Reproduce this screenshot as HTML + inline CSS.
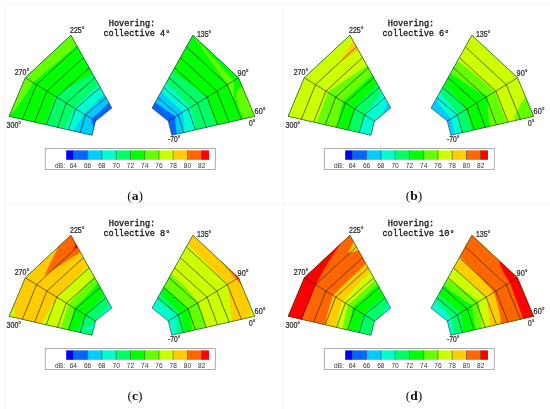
<!DOCTYPE html>
<html lang="en"><head><meta charset="utf-8"><title>Hovering noise contours</title>
<style>
html,body{margin:0;padding:0;background:#fff;}
body{width:550px;height:409px;overflow:hidden;position:relative;}
svg{position:absolute;left:0;top:0;display:block;}
.dg{font-family:"Liberation Sans",sans-serif;font-size:8.2px;fill:#222;stroke:#222;stroke-width:0.22px;}
.lg{font-family:"Liberation Sans",sans-serif;font-size:6.6px;fill:#333;}
.tt{font-family:"Liberation Mono",monospace;font-size:8.6px;font-weight:normal;fill:#111;stroke:#111;stroke-width:0.28px;}
.cap{font-family:"Liberation Serif",serif;font-size:13.5px;fill:#111;}
.cap tspan{font-weight:bold;}
</style></head><body>
<svg width="550" height="409" viewBox="0 0 550 409">
<rect width="550" height="409" fill="#fff"/>
<path d="M4.5 409V3.5H550M4.5 203.5H550M283.4 3.5V409" fill="none" stroke="#f5f5f5" stroke-width="1"/>
<g id="panel0">
<polygon points="70.9,35.2 111.8,108 95.5,121.1 92,135.3 9.1,116.3 25.3,77.7" fill="#0066ff"/>
<path d="M93.32 126.19 L92.32 124.34 L91.89 122.52 L91.75 120.78 L91.82 118.82 L101.2 109.9 L108.89 102.83 L70.9 35.2 L25.3 77.7 L9.1 116.3 L92 135.3 L94.05 126.98Z" fill="#00ccff"/>
<path d="M73.32 131.02 L78.95 122.17 L83.99 113.99 L93.57 104.29 L103.93 93.99 L70.9 35.2 L25.3 77.7 L9.1 116.3Z" fill="#00ffcc"/>
<path d="M65.03 129.11 L67.95 121.69 L70.67 115.27 L73.21 110.14 L74.46 108.1 L77.3 105.14 L83.86 98.71 L91.09 91.9 L98.79 84.83 L70.9 35.2 L25.3 77.7 L9.1 116.3Z" fill="#00ff66"/>
<path d="M44.66 124.45 L55.41 96.32 L64.64 90.07 L73.46 84.39 L81.82 79.32 L85.67 77.12 L92.42 73.5 L70.9 35.2 L25.3 77.7 L9.1 116.3Z" fill="#00ff00"/>
<path d="M11.88 113.32 L14.64 110.1 L17.35 106.69 L22.64 99.37 L27.79 91.4 L33.05 82.49 L57.93 61.65 L76.76 45.63 L70.9 35.2 L25.3 77.7 L9.1 116.3Z" fill="#66ff00"/>
<path d="M77.44 46.85L36.53 84.64L22.36 119.34M83.5 57.62L46.92 91.07L34.63 122.15M89.22 67.81L56.75 97.14L46.24 124.81M94.79 77.72L66.3 103.05L57.51 127.4M100.23 87.4L75.63 108.82L68.54 129.92M105.99 97.66L85.53 114.94L80.23 132.6M25.3 77.7L95.5 121.1" fill="none" stroke="#1a1a1a" stroke-width="0.6"/>
<polygon points="70.9,35.2 111.8,108 95.5,121.1 92,135.3 9.1,116.3 25.3,77.7" fill="none" stroke="#2a2a2a" stroke-width="0.6" stroke-linejoin="miter"/>
<polygon points="192.9,35.2 152,108 168.3,121.1 171.8,135.3 254.7,116.3 238.5,77.7" fill="#0066ff"/>
<path d="M155.2 102.31 L166.91 110.73 L175.59 116.59 L175.36 118.71 L175.3 120.82 L175.39 123.15 L175.87 127.97 L176.86 134.14 L254.7 116.3 L238.5 77.7 L192.9 35.2Z" fill="#00ccff"/>
<path d="M161.33 91.39 L172.38 102.26 L182.81 112.12 L183.58 117.65 L184.09 122.91 L184.31 127.86 L184.2 132.46 L254.7 116.3 L238.5 77.7 L192.9 35.2Z" fill="#00ffcc"/>
<path d="M166.01 83.07 L177.18 93.73 L183.85 100.4 L186.82 103.54 L190.34 107.47 L192.39 114.31 L194.18 120.86 L195.6 126.98 L196.05 129.74 L254.7 116.3 L238.5 77.7 L192.9 35.2Z" fill="#00ff66"/>
<path d="M172.44 71.63 L176.66 74.42 L185.59 80.73 L194.66 87.53 L206.98 97.19 L212.49 113.53 L216.18 125.13 L254.7 116.3 L238.5 77.7 L192.9 35.2Z" fill="#00ff00"/>
<path d="M240.2 87.03 L238.6 88.79 L238.21 89.01 L236.66 91.25 L236 94.37 L236.28 98.33 L237.5 103.12 L238.17 104.85 L239.23 108.37 L243.21 118.93 L254.7 116.3 L241.9 85.8 L241.21 86.45Z" fill="#66ff00"/>
<polygon points="192.9,35.2 233.49,80.8 227.47,84.52" fill="#66ff00"/>
<polygon points="233.49,80.8 227.47,84.52 233.36,99.56" fill="#66ff00"/>
<path d="M186.36 46.85L227.27 84.64L241.44 119.34M180.3 57.62L216.88 91.07L229.17 122.15M174.58 67.81L207.05 97.14L217.56 124.81M169.01 77.72L197.5 103.05L206.29 127.4M163.57 87.4L188.17 108.82L195.26 129.92M157.81 97.66L178.27 114.94L183.57 132.6M238.5 77.7L168.3 121.1" fill="none" stroke="#1a1a1a" stroke-width="0.6"/>
<polygon points="192.9,35.2 152,108 168.3,121.1 171.8,135.3 254.7,116.3 238.5,77.7" fill="none" stroke="#2a2a2a" stroke-width="0.6" stroke-linejoin="miter"/>
<text x="70" y="32.9" class="dg" textLength="14.6" lengthAdjust="spacingAndGlyphs">225°</text>
<text x="14.7" y="74.8" class="dg" textLength="14.6" lengthAdjust="spacingAndGlyphs">270°</text>
<text x="6.6" y="128" class="dg" textLength="14.6" lengthAdjust="spacingAndGlyphs">300°</text>
<text x="197" y="37.1" class="dg" textLength="14.4" lengthAdjust="spacingAndGlyphs">135°</text>
<text x="237.6" y="76.2" class="dg" textLength="11.0" lengthAdjust="spacingAndGlyphs">90°</text>
<text x="254.6" y="113.8" class="dg" textLength="11.0" lengthAdjust="spacingAndGlyphs">60°</text>
<text x="249" y="125.9" class="dg" textLength="6.3" lengthAdjust="spacingAndGlyphs">0°</text>
<text x="167.9" y="142.1" class="dg" textLength="12.5" lengthAdjust="spacingAndGlyphs">-70°</text>
<text x="108.8" y="25.6" class="tt">Hovering:</text>
<text x="103.4" y="36.3" class="tt">collective 4°</text>
<rect x="45.3" y="148.6" width="170" height="20.8" fill="#fff" stroke="#999" stroke-width="0.8"/>
<rect x="66.2" y="150.4" width="7.24" height="9.4" fill="#0000ff"/>
<rect x="73.34" y="150.4" width="14.37" height="9.4" fill="#0066ff"/>
<rect x="87.61" y="150.4" width="14.37" height="9.4" fill="#00ccff"/>
<rect x="101.88" y="150.4" width="14.37" height="9.4" fill="#00ffcc"/>
<rect x="116.15" y="150.4" width="14.37" height="9.4" fill="#00ff66"/>
<rect x="130.42" y="150.4" width="14.37" height="9.4" fill="#00ff00"/>
<rect x="144.69" y="150.4" width="14.37" height="9.4" fill="#66ff00"/>
<rect x="158.95" y="150.4" width="14.37" height="9.4" fill="#ccff00"/>
<rect x="173.22" y="150.4" width="14.37" height="9.4" fill="#ffcc00"/>
<rect x="187.5" y="150.4" width="14.37" height="9.4" fill="#ff6600"/>
<rect x="201.76" y="150.4" width="7.23" height="9.4" fill="#ff0000"/>
<path d="M73.34 150.4v9.4M87.61 150.4v9.4M101.88 150.4v9.4M116.15 150.4v9.4M130.42 150.4v9.4M144.69 150.4v9.4M158.95 150.4v9.4M173.22 150.4v9.4M187.5 150.4v9.4M201.76 150.4v9.4" stroke="#222" stroke-width="0.45" fill="none"/>
<text x="65" y="167.6" class="lg" text-anchor="end">dB:</text>
<text x="73.34" y="167.6" class="lg" text-anchor="middle">64</text>
<text x="87.61" y="167.6" class="lg" text-anchor="middle">66</text>
<text x="101.88" y="167.6" class="lg" text-anchor="middle">68</text>
<text x="116.15" y="167.6" class="lg" text-anchor="middle">70</text>
<text x="130.42" y="167.6" class="lg" text-anchor="middle">72</text>
<text x="144.69" y="167.6" class="lg" text-anchor="middle">74</text>
<text x="158.95" y="167.6" class="lg" text-anchor="middle">76</text>
<text x="173.22" y="167.6" class="lg" text-anchor="middle">78</text>
<text x="187.5" y="167.6" class="lg" text-anchor="middle">80</text>
<text x="201.76" y="167.6" class="lg" text-anchor="middle">82</text>
<text x="135.1" y="199.7" class="cap" text-anchor="middle">(<tspan>a</tspan>)</text>
</g>
<g id="panel1">
<polygon points="349.9,35.2 390.8,108 374.5,121.1 371,135.3 288.1,116.3 304.3,77.7" fill="#00ccff"/>
<path d="M383.37 112.39 L384.24 110.13 L385.28 107.78 L387.9 102.83 L349.9 35.2 L304.3 77.7 L288.1 116.3 L371 135.3 L374.5 121.1 L382.69 114.52Z" fill="#00ffcc"/>
<path d="M358 132.32 L358.95 130.5 L360.87 126.23 L362.57 121.95 L365 115.22 L372.89 104.14 L381.88 92.12 L349.9 35.2 L304.3 77.7 L288.1 116.3Z" fill="#00ff66"/>
<path d="M349.71 130.41 L354.47 108.72 L357.07 105.58 L362.9 98.99 L369.34 92.08 L377.26 83.9 L349.9 35.2 L304.3 77.7 L288.1 116.3Z" fill="#00ff00"/>
<path d="M337.87 127.7 L338.16 124.74 L338.59 121.61 L339.76 115.07 L341.2 108.51 L342.94 101.59 L372.23 74.95 L349.9 35.2 L304.3 77.7 L288.1 116.3Z" fill="#66ff00"/>
<path d="M316.55 122.82 L322.54 105.96 L327.69 92.17 L340.82 83.12 L350.27 76.73 L367.03 65.7 L349.9 35.2 L304.3 77.7 L288.1 116.3Z" fill="#ccff00"/>
<polygon points="353.11,40.92 358.66,50.8 338.44,63.48" fill="#ffcc00"/>
<path d="M356.44 46.85L315.53 84.64L301.36 119.34M362.5 57.62L325.92 91.07L313.63 122.15M368.22 67.81L335.75 97.14L325.24 124.81M373.79 77.72L345.3 103.05L336.51 127.4M379.23 87.4L354.63 108.82L347.54 129.92M384.99 97.66L364.53 114.94L359.23 132.6M304.3 77.7L374.5 121.1" fill="none" stroke="#1a1a1a" stroke-width="0.6"/>
<polygon points="349.9,35.2 390.8,108 374.5,121.1 371,135.3 288.1,116.3 304.3,77.7" fill="none" stroke="#2a2a2a" stroke-width="0.6" stroke-linejoin="miter"/>
<polygon points="471.9,35.2 431,108 447.3,121.1 450.8,135.3 533.7,116.3 517.5,77.7" fill="#00ccff"/>
<path d="M435.83 99.4 L440.33 105.47 L444.32 110.5 L451.28 118.63 L452.69 125.01 L454.92 134.36 L533.7 116.3 L517.5 77.7 L471.9 35.2Z" fill="#00ffcc"/>
<path d="M439.75 92.43 L445.2 98.55 L450.27 104.42 L454.62 109.67 L458.3 114.3 L460.44 124.36 L462.02 132.73 L533.7 116.3 L517.5 77.7 L471.9 35.2Z" fill="#00ff66"/>
<path d="M443.84 85.15 L454.8 95.69 L461 102.24 L463.51 105.24 L465.16 107.46 L466.33 109.33 L468.14 115.78 L469.73 121.97 L471.03 127.83 L471.49 130.56 L533.7 116.3 L517.5 77.7 L471.9 35.2Z" fill="#00ff00"/>
<path d="M450.56 73.19 L462.05 81.24 L470.55 86.78 L479.07 91.88 L483.29 94.2 L487.38 96.32 L487.51 103.01 L487.82 109.82 L488.49 118.92 L489.26 126.49 L533.7 116.3 L517.5 77.7 L471.9 35.2Z" fill="#66ff00"/>
<path d="M457.28 61.23 L461.63 63.83 L466.64 67.54 L471.94 71.76 L483.22 81.37 L494.91 91.67 L507.02 122.41 L514.78 120.64 L514.64 118.33 L514.76 115.79 L515.53 113 L516.9 110.74 L517.93 109.52 L519.58 106.06 L520.92 103.67 L523.95 99.16 L525.63 97.07 L517.5 77.7 L471.9 35.2Z" fill="#ccff00"/>
<path d="M465.36 46.85L506.27 84.64L520.44 119.34M459.3 57.62L495.88 91.07L508.17 122.15M453.58 67.81L486.05 97.14L496.56 124.81M448.01 77.72L476.5 103.05L485.29 127.4M442.57 87.4L467.17 108.82L474.26 129.92M436.81 97.66L457.27 114.94L462.57 132.6M517.5 77.7L447.3 121.1" fill="none" stroke="#1a1a1a" stroke-width="0.6"/>
<polygon points="471.9,35.2 431,108 447.3,121.1 450.8,135.3 533.7,116.3 517.5,77.7" fill="none" stroke="#2a2a2a" stroke-width="0.6" stroke-linejoin="miter"/>
<text x="349" y="32.9" class="dg" textLength="14.6" lengthAdjust="spacingAndGlyphs">225°</text>
<text x="293.7" y="74.8" class="dg" textLength="14.6" lengthAdjust="spacingAndGlyphs">270°</text>
<text x="285.6" y="128" class="dg" textLength="14.6" lengthAdjust="spacingAndGlyphs">300°</text>
<text x="476" y="37.1" class="dg" textLength="14.4" lengthAdjust="spacingAndGlyphs">135°</text>
<text x="516.6" y="76.2" class="dg" textLength="11.0" lengthAdjust="spacingAndGlyphs">90°</text>
<text x="533.6" y="113.8" class="dg" textLength="11.0" lengthAdjust="spacingAndGlyphs">60°</text>
<text x="528" y="125.9" class="dg" textLength="6.3" lengthAdjust="spacingAndGlyphs">0°</text>
<text x="446.9" y="142.1" class="dg" textLength="12.5" lengthAdjust="spacingAndGlyphs">-70°</text>
<text x="387.8" y="25.6" class="tt">Hovering:</text>
<text x="382.4" y="36.3" class="tt">collective 6°</text>
<rect x="324.3" y="148.6" width="170" height="20.8" fill="#fff" stroke="#999" stroke-width="0.8"/>
<rect x="345.2" y="150.4" width="7.24" height="9.4" fill="#0000ff"/>
<rect x="352.34" y="150.4" width="14.37" height="9.4" fill="#0066ff"/>
<rect x="366.61" y="150.4" width="14.37" height="9.4" fill="#00ccff"/>
<rect x="380.88" y="150.4" width="14.37" height="9.4" fill="#00ffcc"/>
<rect x="395.14" y="150.4" width="14.37" height="9.4" fill="#00ff66"/>
<rect x="409.42" y="150.4" width="14.37" height="9.4" fill="#00ff00"/>
<rect x="423.69" y="150.4" width="14.37" height="9.4" fill="#66ff00"/>
<rect x="437.95" y="150.4" width="14.37" height="9.4" fill="#ccff00"/>
<rect x="452.23" y="150.4" width="14.37" height="9.4" fill="#ffcc00"/>
<rect x="466.5" y="150.4" width="14.37" height="9.4" fill="#ff6600"/>
<rect x="480.76" y="150.4" width="7.23" height="9.4" fill="#ff0000"/>
<path d="M352.34 150.4v9.4M366.61 150.4v9.4M380.88 150.4v9.4M395.14 150.4v9.4M409.42 150.4v9.4M423.69 150.4v9.4M437.95 150.4v9.4M452.23 150.4v9.4M466.5 150.4v9.4M480.76 150.4v9.4" stroke="#222" stroke-width="0.45" fill="none"/>
<text x="344" y="167.6" class="lg" text-anchor="end">dB:</text>
<text x="352.34" y="167.6" class="lg" text-anchor="middle">64</text>
<text x="366.61" y="167.6" class="lg" text-anchor="middle">66</text>
<text x="380.88" y="167.6" class="lg" text-anchor="middle">68</text>
<text x="395.14" y="167.6" class="lg" text-anchor="middle">70</text>
<text x="409.42" y="167.6" class="lg" text-anchor="middle">72</text>
<text x="423.69" y="167.6" class="lg" text-anchor="middle">74</text>
<text x="437.95" y="167.6" class="lg" text-anchor="middle">76</text>
<text x="452.23" y="167.6" class="lg" text-anchor="middle">78</text>
<text x="466.5" y="167.6" class="lg" text-anchor="middle">80</text>
<text x="480.76" y="167.6" class="lg" text-anchor="middle">82</text>
<text x="414.1" y="199.7" class="cap" text-anchor="middle">(<tspan>b</tspan>)</text>
</g>
<g id="panel2">
<polygon points="70.9,235.2 111.8,308 95.5,321.1 92,335.3 9.1,316.3 25.3,277.7" fill="#00ffcc"/>
<path d="M96.82 319.08 L99.99 314.76 L101.84 312.49 L105.45 308.28 L109.48 303.87 L70.9 235.2 L25.3 277.7 L9.1 316.3 L92 335.3 L95.5 321.1Z" fill="#00ff66"/>
<path d="M77.23 331.91 L79.46 326.41 L81.78 321.31 L84.21 316.8 L85.48 314.94 L93.08 306.7 L98.62 300.96 L104.51 295.03 L70.9 235.2 L25.3 277.7 L9.1 316.3Z" fill="#00ff00"/>
<path d="M68.34 329.88 L72.1 317.02 L74.47 308.1 L81.11 301.54 L87.25 295.19 L92.89 288.98 L97.79 283.07 L70.9 235.2 L25.3 277.7 L9.1 316.3Z" fill="#66ff00"/>
<path d="M61.48 325.26 L64.71 315.31 L68.45 304.37 L71.83 300.23 L75.02 296.59 L78.53 292.79 L86.06 284.98 L94.29 276.83 L70.9 235.2 L25.3 277.7 L9.1 316.3 L60.65 328.11Z" fill="#ccff00"/>
<path d="M13.7 305.33 L14.99 317.65 L41.7 323.77 L49.86 309.27 L56.91 297.25 L60.83 293.22 L69.45 284.66 L78.69 275.7 L88.44 266.43 L70.9 235.2 L25.3 277.7Z" fill="#ffcc00"/>
<polygon points="80.16,332.59 95.36,321.67 93.75,328.2" fill="#00ffcc"/>
<polygon points="70.9,235.2 58.36,246.89 44.03,275.86 80.42,252.15" fill="#ff6600"/>
<polygon points="75.69,243.73 77.79,247.47 73.43,248.66" fill="#ff0000"/>
<path d="M77.44 246.85L36.53 284.64L22.36 319.34M83.5 257.62L46.92 291.07L34.63 322.15M89.22 267.81L56.75 297.14L46.24 324.81M94.79 277.72L66.3 303.05L57.51 327.4M100.23 287.4L75.63 308.82L68.54 329.92M105.99 297.66L85.53 314.94L80.23 332.6M25.3 277.7L95.5 321.1" fill="none" stroke="#1a1a1a" stroke-width="0.6"/>
<polygon points="70.9,235.2 111.8,308 95.5,321.1 92,335.3 9.1,316.3 25.3,277.7" fill="none" stroke="#2a2a2a" stroke-width="0.6" stroke-linejoin="miter"/>
<polygon points="192.9,235.2 152,308 168.3,321.1 171.8,335.3 254.7,316.3 238.5,277.7" fill="#00ffcc"/>
<path d="M159.3 300.63 L164.58 305.36 L176.79 315.84 L176.64 319.22 L176.73 324.12 L177.1 329.01 L177.68 333.95 L254.7 316.3 L238.5 277.7 L192.9 235.2 L157.24 298.67Z" fill="#00ff66"/>
<path d="M160.16 293.47 L171.99 304.95 L177.16 310.27 L180.31 313.67 L183.19 324.76 L184.35 329.92 L184.8 332.32 L254.7 316.3 L238.5 277.7 L192.9 235.2Z" fill="#00ff00"/>
<path d="M163.96 286.71 L188.33 308.72 L189.85 315.27 L191.13 321.65 L192.14 327.67 L192.49 330.56 L254.7 316.3 L238.5 277.7 L192.9 235.2Z" fill="#66ff00"/>
<path d="M171.27 273.71 L185.03 287.3 L188.92 291.36 L195.71 299.02 L198.36 302.52 L203.28 317.47 L205.31 324.32 L206.11 327.44 L254.7 316.3 L238.5 277.7 L192.9 235.2Z" fill="#ccff00"/>
<path d="M192.49 248.98 L202.81 259.59 L208.33 265.11 L227.94 284.22 L228.9 295.31 L229.74 303.24 L230.71 311.15 L232.17 321.46 L249.99 317.38 L250.1 314.75 L250.67 312.23 L252.03 309.94 L238.5 277.7 L192.9 235.2 L187.92 244.07Z" fill="#ffcc00"/>
<polygon points="219.35,259.85 238.5,277.7 236.29,279.06" fill="#ff6600"/>
<polygon points="238.5,277.7 242.06,286.19 236.29,279.06" fill="#ff6600"/>
<polygon points="233.94,273.45 238.5,277.7 237.8,278.13" fill="#ff0000"/>
<polygon points="238.5,277.7 239.63,280.4 237.8,278.13" fill="#ff0000"/>
<path d="M186.36 246.85L227.27 284.64L241.44 319.34M180.3 257.62L216.88 291.07L229.17 322.15M174.58 267.81L207.05 297.14L217.56 324.81M169.01 277.72L197.5 303.05L206.29 327.4M163.57 287.4L188.17 308.82L195.26 329.92M157.81 297.66L178.27 314.94L183.57 332.6M238.5 277.7L168.3 321.1" fill="none" stroke="#1a1a1a" stroke-width="0.6"/>
<polygon points="192.9,235.2 152,308 168.3,321.1 171.8,335.3 254.7,316.3 238.5,277.7" fill="none" stroke="#2a2a2a" stroke-width="0.6" stroke-linejoin="miter"/>
<text x="70" y="232.9" class="dg" textLength="14.6" lengthAdjust="spacingAndGlyphs">225°</text>
<text x="14.7" y="274.8" class="dg" textLength="14.6" lengthAdjust="spacingAndGlyphs">270°</text>
<text x="6.6" y="328" class="dg" textLength="14.6" lengthAdjust="spacingAndGlyphs">300°</text>
<text x="197" y="237.1" class="dg" textLength="14.4" lengthAdjust="spacingAndGlyphs">135°</text>
<text x="237.6" y="276.2" class="dg" textLength="11.0" lengthAdjust="spacingAndGlyphs">90°</text>
<text x="254.6" y="313.8" class="dg" textLength="11.0" lengthAdjust="spacingAndGlyphs">60°</text>
<text x="249" y="325.9" class="dg" textLength="6.3" lengthAdjust="spacingAndGlyphs">0°</text>
<text x="167.9" y="342.1" class="dg" textLength="12.5" lengthAdjust="spacingAndGlyphs">-70°</text>
<text x="108.8" y="225.6" class="tt">Hovering:</text>
<text x="103.4" y="236.3" class="tt">collective 8°</text>
<rect x="45.3" y="348.6" width="170" height="20.8" fill="#fff" stroke="#999" stroke-width="0.8"/>
<rect x="66.2" y="350.4" width="7.24" height="9.4" fill="#0000ff"/>
<rect x="73.34" y="350.4" width="14.37" height="9.4" fill="#0066ff"/>
<rect x="87.61" y="350.4" width="14.37" height="9.4" fill="#00ccff"/>
<rect x="101.88" y="350.4" width="14.37" height="9.4" fill="#00ffcc"/>
<rect x="116.15" y="350.4" width="14.37" height="9.4" fill="#00ff66"/>
<rect x="130.42" y="350.4" width="14.37" height="9.4" fill="#00ff00"/>
<rect x="144.69" y="350.4" width="14.37" height="9.4" fill="#66ff00"/>
<rect x="158.95" y="350.4" width="14.37" height="9.4" fill="#ccff00"/>
<rect x="173.22" y="350.4" width="14.37" height="9.4" fill="#ffcc00"/>
<rect x="187.5" y="350.4" width="14.37" height="9.4" fill="#ff6600"/>
<rect x="201.76" y="350.4" width="7.23" height="9.4" fill="#ff0000"/>
<path d="M73.34 350.4v9.4M87.61 350.4v9.4M101.88 350.4v9.4M116.15 350.4v9.4M130.42 350.4v9.4M144.69 350.4v9.4M158.95 350.4v9.4M173.22 350.4v9.4M187.5 350.4v9.4M201.76 350.4v9.4" stroke="#222" stroke-width="0.45" fill="none"/>
<text x="65" y="367.6" class="lg" text-anchor="end">dB:</text>
<text x="73.34" y="367.6" class="lg" text-anchor="middle">64</text>
<text x="87.61" y="367.6" class="lg" text-anchor="middle">66</text>
<text x="101.88" y="367.6" class="lg" text-anchor="middle">68</text>
<text x="116.15" y="367.6" class="lg" text-anchor="middle">70</text>
<text x="130.42" y="367.6" class="lg" text-anchor="middle">72</text>
<text x="144.69" y="367.6" class="lg" text-anchor="middle">74</text>
<text x="158.95" y="367.6" class="lg" text-anchor="middle">76</text>
<text x="173.22" y="367.6" class="lg" text-anchor="middle">78</text>
<text x="187.5" y="367.6" class="lg" text-anchor="middle">80</text>
<text x="201.76" y="367.6" class="lg" text-anchor="middle">82</text>
<text x="135.1" y="399.7" class="cap" text-anchor="middle">(<tspan>c</tspan>)</text>
</g>
<g id="panel3">
<polygon points="349.9,235.2 390.8,308 374.5,321.1 371,335.3 288.1,316.3 304.3,277.7" fill="#00ffcc"/>
<path d="M382.69 314.52 L383.16 312.39 L384 310.13 L385.11 307.93 L386.5 305.68 L388.19 303.35 L349.9 235.2 L304.3 277.7 L288.1 316.3 L371 335.3 L374.5 321.1Z" fill="#00ff66"/>
<path d="M357.41 332.18 L362.99 313.99 L384.1 296.07 L349.9 235.2 L304.3 277.7 L288.1 316.3Z" fill="#00ff00"/>
<path d="M348.29 330.09 L350.28 321.87 L351.42 316.22 L352.26 310.34 L352.47 307.47 L367.83 293.73 L377.67 284.63 L349.9 235.2 L304.3 277.7 L288.1 316.3Z" fill="#66ff00"/>
<path d="M342.61 328.79 L343.54 323.61 L344.76 317.79 L346.26 311.36 L347.95 304.69 L375.04 279.95 L349.9 235.2 L304.3 277.7 L288.1 316.3Z" fill="#ccff00"/>
<path d="M335.5 327.16 L336.23 323.75 L338.03 316.56 L340.1 309.06 L342.44 301.28 L354.22 288.53 L370.37 271.63 L349.9 235.2 L304.3 277.7 L288.1 316.3Z" fill="#ffcc00"/>
<path d="M325.32 324.83 L325.72 321.89 L326.31 318.7 L328.01 311.58 L330.26 303.74 L332.91 295.39 L336.82 291.44 L345.8 282.76 L365.98 263.83 L358.36 250.25 L354.89 251.62 L352.19 252.35 L349.96 252.7 L348.16 252.64 L353.72 241.99 L349.9 235.2 L304.3 277.7 L288.1 316.3Z" fill="#ff6600"/>
<path d="M301.75 319.43 L315.56 284.66 L317.13 281.92 L323.52 269.99 L325.93 265.99 L331.42 257.36 L334.59 252.62 L340.89 243.6 L304.3 277.7 L288.1 316.3Z" fill="#ff0000"/>
<path d="M356.44 246.85L315.53 284.64L301.36 319.34M362.5 257.62L325.92 291.07L313.63 322.15M368.22 267.81L335.75 297.14L325.24 324.81M373.79 277.72L345.3 303.05L336.51 327.4M379.23 287.4L354.63 308.82L347.54 329.92M384.99 297.66L364.53 314.94L359.23 332.6M304.3 277.7L374.5 321.1" fill="none" stroke="#1a1a1a" stroke-width="0.6"/>
<polygon points="349.9,235.2 390.8,308 374.5,321.1 371,335.3 288.1,316.3 304.3,277.7" fill="none" stroke="#2a2a2a" stroke-width="0.6" stroke-linejoin="miter"/>
<polygon points="471.9,235.2 431,308 447.3,321.1 450.8,335.3 533.7,316.3 517.5,277.7" fill="#00ffcc"/>
<path d="M435.37 300.23 L451.78 318.32 L454.32 334.49 L533.7 316.3 L517.5 277.7 L471.9 235.2Z" fill="#00ff66"/>
<path d="M438.58 294.51 L460.81 312.75 L462.23 322.32 L462.81 327.5 L463.2 332.46 L533.7 316.3 L517.5 277.7 L471.9 235.2Z" fill="#00ff00"/>
<path d="M443.84 285.15 L452.72 292.05 L460.67 297.93 L468.54 303.29 L472.34 305.62 L472.41 308.67 L473.02 314.86 L474.18 321.72 L475.88 329.55 L533.7 316.3 L517.5 277.7 L471.9 235.2Z" fill="#66ff00"/>
<path d="M447.06 279.43 L450.74 281.5 L458.68 286.6 L466.65 292.27 L478.86 301.59 L480.42 313.79 L482.39 328.06 L533.7 316.3 L517.5 277.7 L471.9 235.2Z" fill="#ccff00"/>
<path d="M453.77 267.47 L486.38 296.94 L487.85 306.6 L488.58 313.58 L488.95 320.13 L488.99 323.24 L488.9 326.57 L533.7 316.3 L517.5 277.7 L471.9 235.2Z" fill="#ffcc00"/>
<path d="M464.99 261.66 L479.34 276.43 L487.62 285.29 L493.91 292.29 L495.29 296.63 L497.67 304.82 L499.52 312.58 L500.18 316.46 L500.57 320.07 L500.51 323.91 L533.7 316.3 L517.5 277.7 L471.9 235.2 L459.91 256.55Z" fill="#ff6600"/>
<path d="M500.61 265.65 L502.14 269.45 L504.13 273.46 L506.63 277.69 L509.85 282.43 L517.21 302.81 L523.13 318.72 L533.7 316.3 L517.5 277.7 L499.22 260.67 L499.48 262.01Z" fill="#ff0000"/>
<path d="M465.36 246.85L506.27 284.64L520.44 319.34M459.3 257.62L495.88 291.07L508.17 322.15M453.58 267.81L486.05 297.14L496.56 324.81M448.01 277.72L476.5 303.05L485.29 327.4M442.57 287.4L467.17 308.82L474.26 329.92M436.81 297.66L457.27 314.94L462.57 332.6M517.5 277.7L447.3 321.1" fill="none" stroke="#1a1a1a" stroke-width="0.6"/>
<polygon points="471.9,235.2 431,308 447.3,321.1 450.8,335.3 533.7,316.3 517.5,277.7" fill="none" stroke="#2a2a2a" stroke-width="0.6" stroke-linejoin="miter"/>
<text x="349" y="232.9" class="dg" textLength="14.6" lengthAdjust="spacingAndGlyphs">225°</text>
<text x="293.7" y="274.8" class="dg" textLength="14.6" lengthAdjust="spacingAndGlyphs">270°</text>
<text x="285.6" y="328" class="dg" textLength="14.6" lengthAdjust="spacingAndGlyphs">300°</text>
<text x="476" y="237.1" class="dg" textLength="14.4" lengthAdjust="spacingAndGlyphs">135°</text>
<text x="516.6" y="276.2" class="dg" textLength="11.0" lengthAdjust="spacingAndGlyphs">90°</text>
<text x="533.6" y="313.8" class="dg" textLength="11.0" lengthAdjust="spacingAndGlyphs">60°</text>
<text x="528" y="325.9" class="dg" textLength="6.3" lengthAdjust="spacingAndGlyphs">0°</text>
<text x="446.9" y="342.1" class="dg" textLength="12.5" lengthAdjust="spacingAndGlyphs">-70°</text>
<text x="387.8" y="225.6" class="tt">Hovering:</text>
<text x="382.4" y="236.3" class="tt">collective 10°</text>
<rect x="324.3" y="348.6" width="170" height="20.8" fill="#fff" stroke="#999" stroke-width="0.8"/>
<rect x="345.2" y="350.4" width="7.24" height="9.4" fill="#0000ff"/>
<rect x="352.34" y="350.4" width="14.37" height="9.4" fill="#0066ff"/>
<rect x="366.61" y="350.4" width="14.37" height="9.4" fill="#00ccff"/>
<rect x="380.88" y="350.4" width="14.37" height="9.4" fill="#00ffcc"/>
<rect x="395.14" y="350.4" width="14.37" height="9.4" fill="#00ff66"/>
<rect x="409.42" y="350.4" width="14.37" height="9.4" fill="#00ff00"/>
<rect x="423.69" y="350.4" width="14.37" height="9.4" fill="#66ff00"/>
<rect x="437.95" y="350.4" width="14.37" height="9.4" fill="#ccff00"/>
<rect x="452.23" y="350.4" width="14.37" height="9.4" fill="#ffcc00"/>
<rect x="466.5" y="350.4" width="14.37" height="9.4" fill="#ff6600"/>
<rect x="480.76" y="350.4" width="7.23" height="9.4" fill="#ff0000"/>
<path d="M352.34 350.4v9.4M366.61 350.4v9.4M380.88 350.4v9.4M395.14 350.4v9.4M409.42 350.4v9.4M423.69 350.4v9.4M437.95 350.4v9.4M452.23 350.4v9.4M466.5 350.4v9.4M480.76 350.4v9.4" stroke="#222" stroke-width="0.45" fill="none"/>
<text x="344" y="367.6" class="lg" text-anchor="end">dB:</text>
<text x="352.34" y="367.6" class="lg" text-anchor="middle">64</text>
<text x="366.61" y="367.6" class="lg" text-anchor="middle">66</text>
<text x="380.88" y="367.6" class="lg" text-anchor="middle">68</text>
<text x="395.14" y="367.6" class="lg" text-anchor="middle">70</text>
<text x="409.42" y="367.6" class="lg" text-anchor="middle">72</text>
<text x="423.69" y="367.6" class="lg" text-anchor="middle">74</text>
<text x="437.95" y="367.6" class="lg" text-anchor="middle">76</text>
<text x="452.23" y="367.6" class="lg" text-anchor="middle">78</text>
<text x="466.5" y="367.6" class="lg" text-anchor="middle">80</text>
<text x="480.76" y="367.6" class="lg" text-anchor="middle">82</text>
<text x="414.1" y="399.7" class="cap" text-anchor="middle">(<tspan>d</tspan>)</text>
</g>
</svg>
</body></html>
